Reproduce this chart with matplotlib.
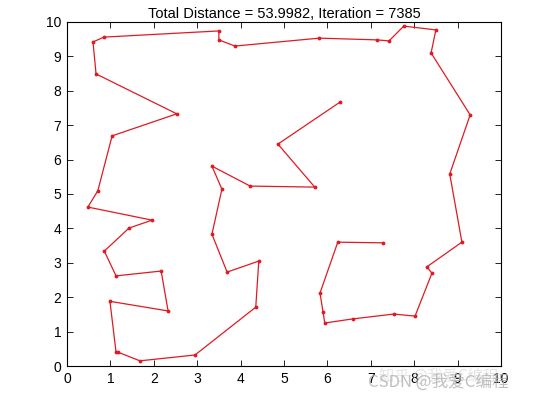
import matplotlib
matplotlib.use('Agg')
import matplotlib.pyplot as plt

# tour order (open path)
route_x = [6.29, 4.86, 5.71, 4.22, 3.34, 3.57, 3.34, 3.69, 4.42, 4.35, 2.95, 1.68,
           1.18, 1.13, 0.99, 2.33, 2.17, 1.13, 0.86, 1.43, 1.96, 0.48, 0.71, 1.04,
           2.53, 0.67, 0.60, 0.85, 3.50, 3.50, 3.87, 5.81, 7.14, 7.42, 7.76, 8.50,
           8.39, 9.29, 8.82, 9.10, 8.29, 8.41, 8.02, 7.53, 6.59, 5.94, 5.90, 5.83,
           6.24, 7.28]
route_y = [7.67, 6.45, 5.20, 5.23, 5.81, 5.14, 3.83, 2.73, 3.05, 1.71, 0.32, 0.15,
           0.40, 0.41, 1.88, 1.60, 2.76, 2.62, 3.34, 4.01, 4.24, 4.62, 5.09, 6.69,
           7.33, 8.49, 9.42, 9.56, 9.74, 9.48, 9.30, 9.53, 9.48, 9.45, 9.88, 9.77,
           9.10, 7.30, 5.58, 3.60, 2.88, 2.70, 1.45, 1.51, 1.37, 1.25, 1.57, 2.12,
           3.60, 3.58]
total_distance = 53.9982
iteration = 7385

plt.rcParams['font.family'] = ['Liberation Sans', 'DejaVu Sans']

fig = plt.figure(figsize=(5.41, 3.99), dpi=100)
ax = fig.add_axes([0.1238, 0.0827, 0.8022, 0.8622])

ax.plot(route_x, route_y, color='#e01a22', linewidth=0.9,
        marker='.', markersize=3.5)

ax.set_xlim(0, 10)
ax.set_ylim(0, 10)
ax.set_xticks(range(0, 11))
ax.set_yticks(range(0, 11))
ax.tick_params(direction='in', length=4, width=0.6, labelsize=10,
               top=True, right=True, pad=4)
for s in ax.spines.values():
    s.set_linewidth(0.8)

ax.set_title('Total Distance = %.4f, Iteration = %d' % (total_distance, iteration),
             fontsize=10.5, pad=3)

# watermarks (faint, as in the screenshot)
fig.text(0.70, 0.045, '知乎 @我爱C编程', family=['Noto Sans CJK SC', 'DejaVu Sans'],
         fontsize=11, color='#d8d8d8', alpha=0.7)
fig.text(0.68, 0.03, 'CSDN @我爱C编程', family=['Noto Sans CJK SC', 'DejaVu Sans'],
         fontsize=12, color='#b0b0b0', alpha=0.8)

fig.savefig('out.png', dpi=100)
